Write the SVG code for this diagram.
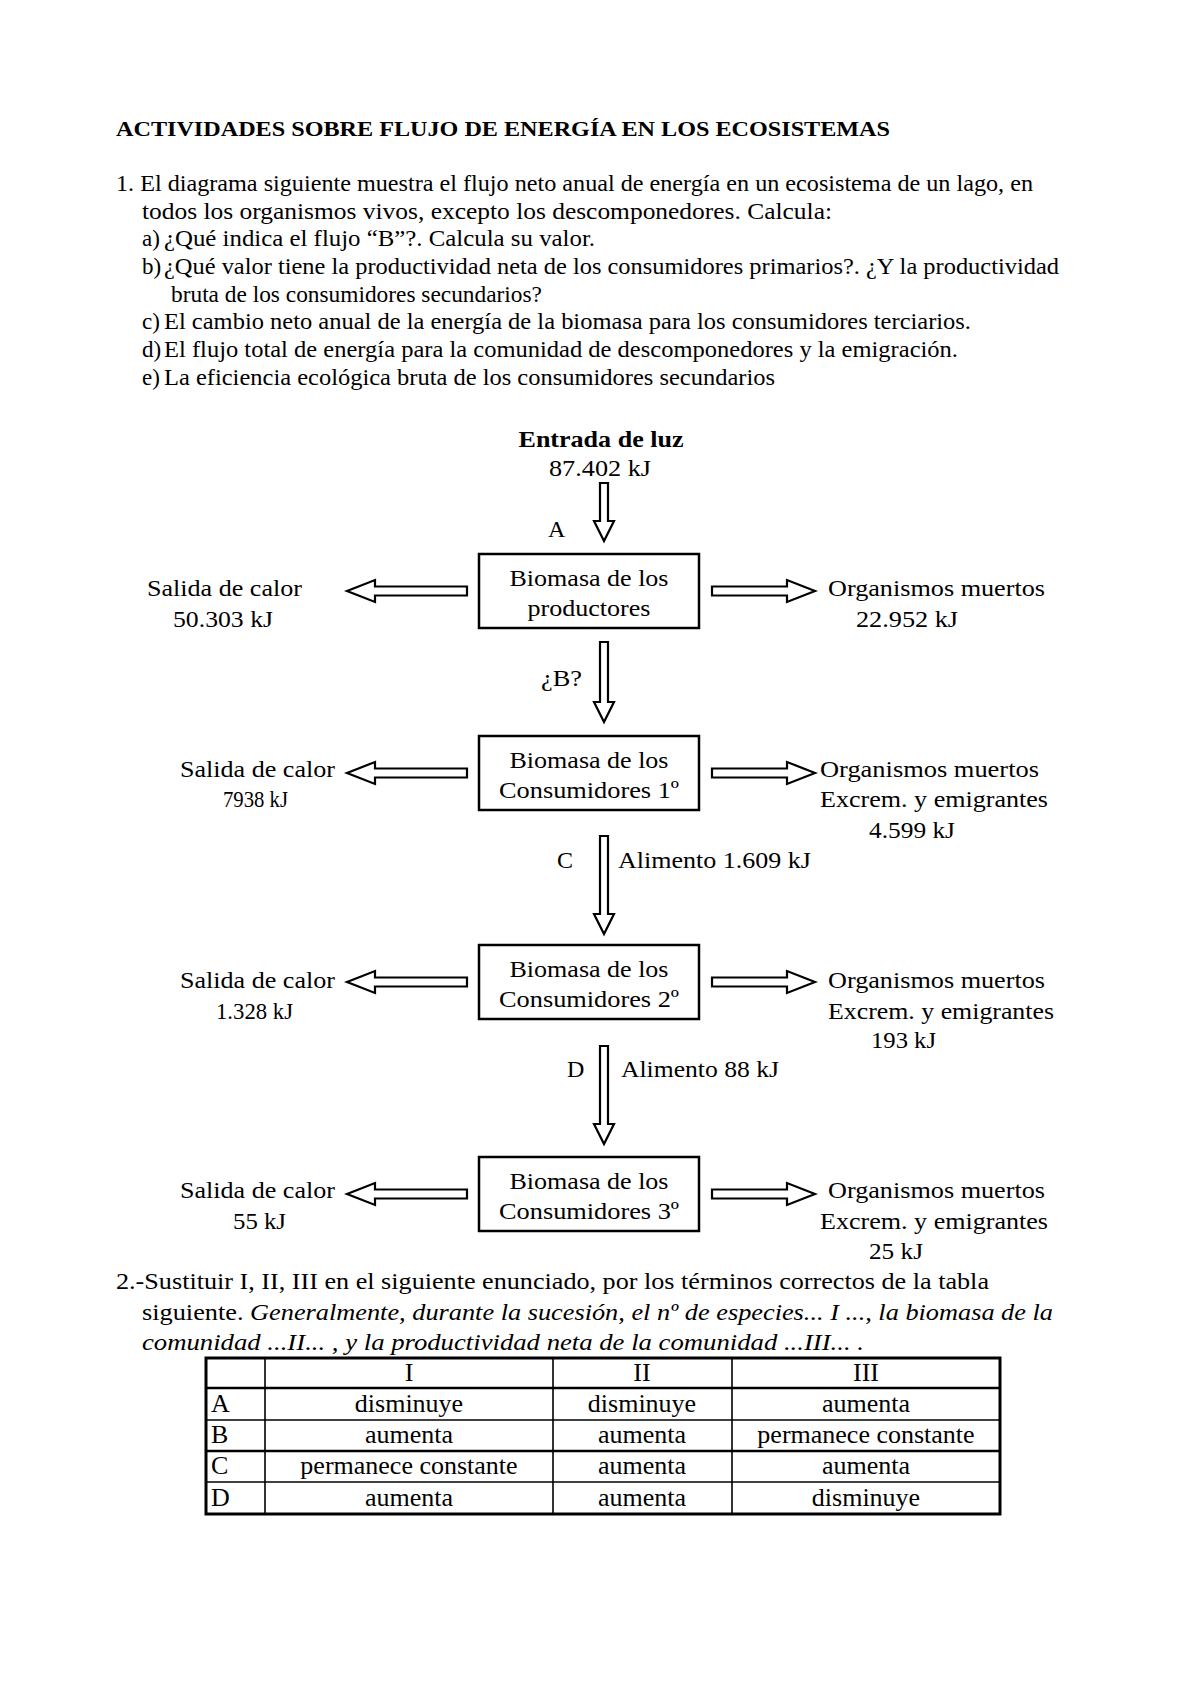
<svg xmlns="http://www.w3.org/2000/svg" width="1200" height="1698" viewBox="0 0 1200 1698">
<style>
text{font-family:"Liberation Serif","Times New Roman",serif;fill:#000}
.t{font-size:22px;font-weight:bold}
.b{font-size:23px}
.l{font-size:24px}
.c{text-anchor:middle}
.tb{font-size:26px}
.box{fill:#fff;stroke:#000;stroke-width:2.5}
.arr{fill:#fff;stroke:#000;stroke-width:2.2;stroke-linejoin:miter}
.grid line{stroke:#000;stroke-width:1.6}
</style>
<rect width="1200" height="1698" fill="#fff"/>
<g id="header">
<text class="t" x="116" y="136" textLength="774" lengthAdjust="spacingAndGlyphs">ACTIVIDADES SOBRE FLUJO DE ENERGÍA EN LOS ECOSISTEMAS</text>
<text class="b" x="116" y="191" textLength="917" lengthAdjust="spacingAndGlyphs">1. El diagrama siguiente muestra el flujo neto anual de energía en un ecosistema de un lago, en</text>
<text class="b" x="142" y="219" textLength="690" lengthAdjust="spacingAndGlyphs">todos los organismos vivos, excepto los descomponedores. Calcula:</text>
<text class="b" x="142" y="246">a)</text>
<text class="b" x="164" y="246" textLength="431" lengthAdjust="spacingAndGlyphs">¿Qué indica el flujo “B”?. Calcula su valor.</text>
<text class="b" x="142" y="274">b)</text>
<text class="b" x="164" y="274" textLength="895" lengthAdjust="spacingAndGlyphs">¿Qué valor tiene la productividad neta de los consumidores primarios?. ¿Y la productividad</text>
<text class="b" x="171" y="302" textLength="371" lengthAdjust="spacingAndGlyphs">bruta de los consumidores secundarios?</text>
<text class="b" x="142" y="329">c)</text>
<text class="b" x="164" y="329" textLength="807" lengthAdjust="spacingAndGlyphs">El cambio neto anual de la energía de la biomasa para los consumidores terciarios.</text>
<text class="b" x="142" y="357">d)</text>
<text class="b" x="164" y="357" textLength="794" lengthAdjust="spacingAndGlyphs">El flujo total de energía para la comunidad de descomponedores y la emigración.</text>
<text class="b" x="142" y="385">e)</text>
<text class="b" x="164" y="385" textLength="611" lengthAdjust="spacingAndGlyphs">La eficiencia ecológica bruta de los consumidores secundarios</text>
</g>
<g id="light-input">
<text class="l c" x="601" y="447" font-weight="bold" textLength="165" lengthAdjust="spacingAndGlyphs">Entrada de luz</text>
<text class="l c" x="600" y="476" textLength="102" lengthAdjust="spacingAndGlyphs">87.402 kJ</text>
</g>
<g id="connectors">
<path class="arr" d="M600,483 L608,483 L608,521 L614,521 L604,541 L594,521 L600,521 Z"/>
<path class="arr" d="M600,642 L608,642 L608,702 L614,702 L604,722 L594,702 L600,702 Z"/>
<path class="arr" d="M600,836 L608,836 L608,914 L614,914 L604,934 L594,914 L600,914 Z"/>
<path class="arr" d="M600,1046 L608,1046 L608,1124 L614,1124 L604,1144 L594,1124 L600,1124 Z"/>
<path class="arr" d="M467,586.5 L375,586.5 L375,580 L347,591 L375,602 L375,595.5 L467,595.5 Z"/>
<path class="arr" d="M712,586.5 L787,586.5 L787,580 L815,591 L787,602 L787,595.5 L712,595.5 Z"/>
<path class="arr" d="M467,768.5 L375,768.5 L375,762 L347,773 L375,784 L375,777.5 L467,777.5 Z"/>
<path class="arr" d="M712,768.5 L787,768.5 L787,762 L815,773 L787,784 L787,777.5 L712,777.5 Z"/>
<path class="arr" d="M467,977.5 L375,977.5 L375,971 L347,982 L375,993 L375,986.5 L467,986.5 Z"/>
<path class="arr" d="M712,977.5 L787,977.5 L787,971 L815,982 L787,993 L787,986.5 L712,986.5 Z"/>
<path class="arr" d="M467,1189.5 L375,1189.5 L375,1183 L347,1194 L375,1205 L375,1198.5 L467,1198.5 Z"/>
<path class="arr" d="M712,1189.5 L787,1189.5 L787,1183 L815,1194 L787,1205 L787,1198.5 L712,1198.5 Z"/>
<text class="l" x="548" y="537">A</text>
<text class="l" x="541" y="686" textLength="41" lengthAdjust="spacingAndGlyphs">¿B?</text>
<text class="l" x="557" y="868">C</text>
<text class="l" x="618" y="868" textLength="193" lengthAdjust="spacingAndGlyphs">Alimento 1.609 kJ</text>
<text class="l" x="567" y="1077">D</text>
<text class="l" x="621" y="1077" textLength="158" lengthAdjust="spacingAndGlyphs">Alimento 88 kJ</text>
</g>
<g id="productores">
<rect class="box" x="479" y="554" width="220" height="74"/>
<text class="l c" x="589" y="586" textLength="159" lengthAdjust="spacingAndGlyphs">Biomasa de los</text>
<text class="l c" x="589" y="616" textLength="123" lengthAdjust="spacingAndGlyphs">productores</text>
</g>
<g id="consumidores1">
<rect class="box" x="479" y="736" width="220" height="74"/>
<text class="l c" x="589" y="768" textLength="159" lengthAdjust="spacingAndGlyphs">Biomasa de los</text>
<text class="l c" x="589" y="798" textLength="180" lengthAdjust="spacingAndGlyphs">Consumidores 1º</text>
</g>
<g id="consumidores2">
<rect class="box" x="479" y="945" width="220" height="74"/>
<text class="l c" x="589" y="977" textLength="159" lengthAdjust="spacingAndGlyphs">Biomasa de los</text>
<text class="l c" x="589" y="1007" textLength="180" lengthAdjust="spacingAndGlyphs">Consumidores 2º</text>
</g>
<g id="consumidores3">
<rect class="box" x="479" y="1157" width="220" height="74"/>
<text class="l c" x="589" y="1189" textLength="159" lengthAdjust="spacingAndGlyphs">Biomasa de los</text>
<text class="l c" x="589" y="1219" textLength="180" lengthAdjust="spacingAndGlyphs">Consumidores 3º</text>
</g>
<g id="calor1">
<text class="l" x="147" y="596" textLength="155" lengthAdjust="spacingAndGlyphs">Salida de calor</text>
<text class="l" x="173" y="627" textLength="100" lengthAdjust="spacingAndGlyphs">50.303 kJ</text>
</g>
<g id="muertos1">
<text class="l" x="828" y="596" textLength="217" lengthAdjust="spacingAndGlyphs">Organismos muertos</text>
<text class="l" x="856" y="627" textLength="102" lengthAdjust="spacingAndGlyphs">22.952 kJ</text>
</g>
<g id="calor2">
<text class="l" x="180" y="777" textLength="155" lengthAdjust="spacingAndGlyphs">Salida de calor</text>
<text class="l" x="223" y="807" textLength="65" lengthAdjust="spacingAndGlyphs">7938 kJ</text>
</g>
<g id="muertos2">
<text class="l" x="820" y="777" textLength="219" lengthAdjust="spacingAndGlyphs">Organismos muertos</text>
<text class="l" x="820" y="807" textLength="228" lengthAdjust="spacingAndGlyphs">Excrem. y emigrantes</text>
<text class="l" x="869" y="838" textLength="86" lengthAdjust="spacingAndGlyphs">4.599 kJ</text>
</g>
<g id="calor3">
<text class="l" x="180" y="988" textLength="155" lengthAdjust="spacingAndGlyphs">Salida de calor</text>
<text class="l" x="216" y="1019" textLength="77" lengthAdjust="spacingAndGlyphs">1.328 kJ</text>
</g>
<g id="muertos3">
<text class="l" x="828" y="988" textLength="217" lengthAdjust="spacingAndGlyphs">Organismos muertos</text>
<text class="l" x="828" y="1019" textLength="226" lengthAdjust="spacingAndGlyphs">Excrem. y emigrantes</text>
<text class="l" x="871" y="1048" textLength="65" lengthAdjust="spacingAndGlyphs">193 kJ</text>
</g>
<g id="calor4">
<text class="l" x="180" y="1198" textLength="155" lengthAdjust="spacingAndGlyphs">Salida de calor</text>
<text class="l" x="233" y="1229" textLength="53" lengthAdjust="spacingAndGlyphs">55 kJ</text>
</g>
<g id="muertos4">
<text class="l" x="828" y="1198" textLength="217" lengthAdjust="spacingAndGlyphs">Organismos muertos</text>
<text class="l" x="820" y="1229" textLength="228" lengthAdjust="spacingAndGlyphs">Excrem. y emigrantes</text>
<text class="l" x="869" y="1259" textLength="54" lengthAdjust="spacingAndGlyphs">25 kJ</text>
</g>
<g id="question2">
<text class="b" x="116" y="1289" textLength="873" lengthAdjust="spacingAndGlyphs">2.-Sustituir I, II, III en el siguiente enunciado, por los términos correctos de la tabla</text>
<text class="b" x="142" y="1320" textLength="911" lengthAdjust="spacingAndGlyphs">siguiente. <tspan font-style="italic">Generalmente, durante la sucesión, el nº de especies... I ..., la biomasa de la</tspan></text>
<text class="b" x="142" y="1350" font-style="italic" textLength="722" lengthAdjust="spacingAndGlyphs">comunidad ...II... , y la productividad neta de la comunidad ...III... .</text>
</g>
<g id="table">
<g class="grid">
<line x1="265" y1="1358" x2="265" y2="1514"/>
<line x1="553" y1="1358" x2="553" y2="1514"/>
<line x1="732" y1="1358" x2="732" y2="1514"/>
<line x1="206" y1="1388" x2="1000" y2="1388" style="stroke-width:2.6"/>
<line x1="206" y1="1420" x2="1000" y2="1420"/>
<line x1="206" y1="1451" x2="1000" y2="1451" style="stroke-width:2.6"/>
<line x1="206" y1="1482" x2="1000" y2="1482"/>
</g>
<rect x="206" y="1358" width="794" height="156" fill="none" stroke="#000" stroke-width="3"/>
<text class="tb c" x="409" y="1381">I</text>
<text class="tb c" x="642" y="1381">II</text>
<text class="tb c" x="866" y="1381">III</text>
<text class="tb" x="211" y="1412">A</text>
<text class="tb c" x="409" y="1412">disminuye</text>
<text class="tb c" x="642" y="1412">disminuye</text>
<text class="tb c" x="866" y="1412">aumenta</text>
<text class="tb" x="211" y="1443">B</text>
<text class="tb c" x="409" y="1443">aumenta</text>
<text class="tb c" x="642" y="1443">aumenta</text>
<text class="tb c" x="866" y="1443">permanece constante</text>
<text class="tb" x="211" y="1474">C</text>
<text class="tb c" x="409" y="1474">permanece constante</text>
<text class="tb c" x="642" y="1474">aumenta</text>
<text class="tb c" x="866" y="1474">aumenta</text>
<text class="tb" x="211" y="1506">D</text>
<text class="tb c" x="409" y="1506">aumenta</text>
<text class="tb c" x="642" y="1506">aumenta</text>
<text class="tb c" x="866" y="1506">disminuye</text>
</g>
</svg>
